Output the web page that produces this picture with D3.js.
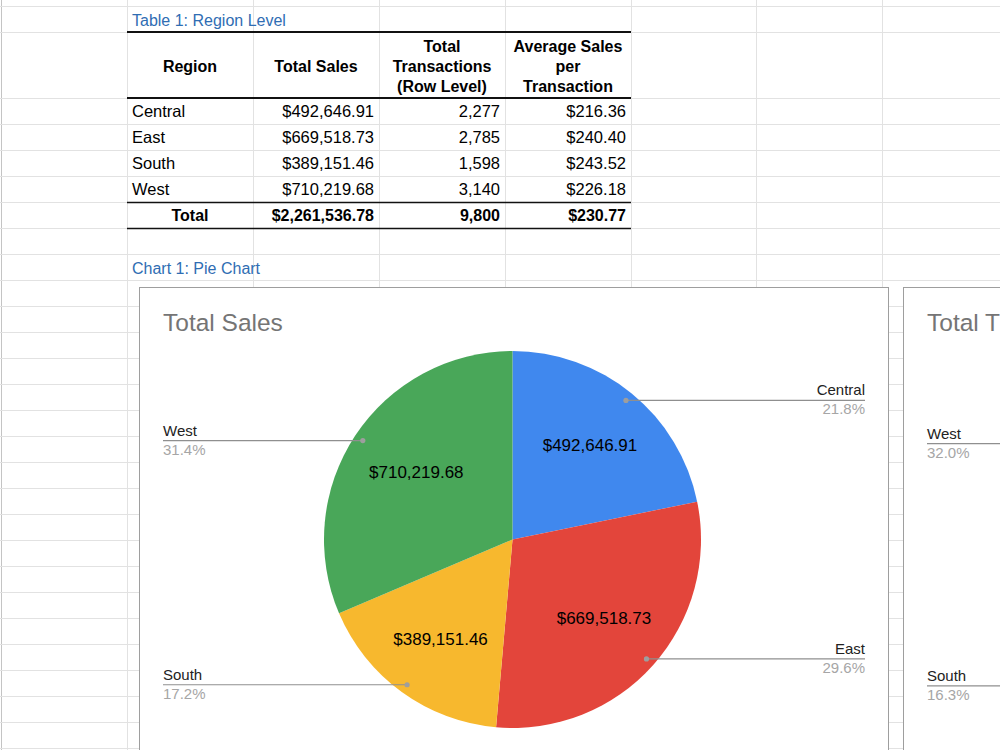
<!DOCTYPE html>
<html>
<head>
<meta charset="utf-8">
<script src="https://cdn.jsdelivr.net/npm/d3@7"></script>
<style>
  html, body { margin: 0; padding: 0; background: #fff; }
  svg { display: block; font-family: "Liberation Sans", Arial, sans-serif; }
</style>
</head>
<body>
<svg id="c" width="1000" height="750"></svg>
<script>
// ---------- data ----------
const regions = ["Central", "East", "South", "West"];
const totalSales = [492646.91, 669518.73, 389151.46, 710219.68];
const totalTransactions = [2277, 2785, 1598, 3140];
const avgSales = [216.36, 240.40, 243.52, 226.18];
const headerLines = [
  ["Region"],
  ["Total Sales"],
  ["Total", "Transactions", "(Row Level)"],
  ["Average Sales", "per", "Transaction"]
];
const tableTitle = "Table 1: Region Level";
const chartTitle = "Chart 1: Pie Chart";
const pieTitles = ["Total Sales", "Total Transactions"];
const sliceColors = ["#4088ee", "#e3453b", "#f7b82e", "#49a759"];

// ---------- setup ----------
const svg = d3.select("#c");
const W = 1000, H = 750;
const money = d3.format("$,.2f");
const intf = d3.format(",");
const pct = d3.format(".1%");

// spreadsheet grid
const colX = [1, 127, 253, 379, 505, 631, 756, 882];
const rowY = [6, 32].concat(d3.range(98, H + 1, 26));
const grid = svg.append("g");
grid.selectAll("line.v").data(colX).join("line")
  .attr("x1", d => d + 0.5).attr("x2", d => d + 0.5)
  .attr("y1", 0).attr("y2", H)
  .attr("stroke", (d, i) => i === 0 ? "#c4c4c4" : "#e2e2e2").attr("stroke-width", 1);
grid.selectAll("line.h").data(rowY).join("line")
  .attr("x1", 0).attr("x2", W)
  .attr("y1", d => d + 0.5).attr("y2", d => d + 0.5)
  .attr("stroke", "#e2e2e2").attr("stroke-width", 1);

// ---------- table ----------
const tbl = svg.append("g");
const colL = [127, 253, 379, 505];
const colR = [253, 379, 505, 631];
tbl.append("text").attr("x", 132).attr("y", 26)
  .attr("font-size", 16).attr("fill", "#2f6db3").text(tableTitle);

// header
headerLines.forEach((lines, c) => {
  const cx = (colL[c] + colR[c]) / 2;
  const n = lines.length;
  lines.forEach((t, k) => {
    tbl.append("text").attr("x", cx).attr("y", 72 + (k - (n - 1) / 2) * 20)
      .attr("text-anchor", "middle").attr("font-size", 16).attr("font-weight", "bold")
      .attr("fill", "#000").text(t);
  });
});

// rows
const rowTop = d3.scaleBand().domain(d3.range(regions.length)).range([98, 98 + 26 * regions.length]);
regions.forEach((r, i) => {
  const y = rowTop(i) + 19;
  tbl.append("text").attr("x", 132).attr("y", y).attr("font-size", 16.5).attr("fill", "#000").text(r);
  const vals = [money(totalSales[i]), intf(totalTransactions[i]), money(avgSales[i])];
  vals.forEach((v, j) => {
    tbl.append("text").attr("x", colR[j + 1] - 5).attr("y", y)
      .attr("text-anchor", "end").attr("font-size", 16.5).attr("fill", "#000").text(v);
  });
});
// total row
const sumSales = d3.sum(totalSales), sumTx = d3.sum(totalTransactions);
const totY = 202 + 19;
tbl.append("text").attr("x", 190).attr("y", totY).attr("text-anchor", "middle")
  .attr("font-size", 16).attr("font-weight", "bold").text("Total");
[money(sumSales), intf(sumTx), money(sumSales / sumTx)].forEach((v, j) => {
  tbl.append("text").attr("x", colR[j + 1] - 5).attr("y", totY)
    .attr("text-anchor", "end").attr("font-size", 16).attr("font-weight", "bold").text(v);
});
// borders
[[32, 2], [98, 2], [202.5, 1.5], [228.5, 1.5]].forEach(([y, w]) => {
  tbl.append("line").attr("x1", 127).attr("x2", 631).attr("y1", y).attr("y2", y)
    .attr("stroke", "#111").attr("stroke-width", w);
});

svg.append("text").attr("x", 132).attr("y", 274)
  .attr("font-size", 16).attr("fill", "#2f6db3").text(chartTitle);

// ---------- pie charts ----------
function drawPie(left, title, values, fmt) {
  const g = svg.append("g");
  g.append("rect").attr("x", left + 0.5).attr("y", 287.5).attr("width", 749).attr("height", 480)
    .attr("fill", "#fff").attr("stroke", "#9e9e9e").attr("stroke-width", 1);
  g.append("text").attr("x", left + 24).attr("y", 331)
    .attr("font-size", 24.5).attr("fill", "#757575").text(title);

  const cx = left + 373.5, cy = 539.5, R = 188.5;
  const pie = d3.pie().sort(null).value(d => d)(values);
  const arc = d3.arc().innerRadius(0).outerRadius(R);
  const pg = g.append("g").attr("transform", `translate(${cx},${cy})`);
  pg.selectAll("path").data(pie).join("path")
    .attr("d", arc).attr("fill", (d, i) => sliceColors[i]);

  // value labels inside slices (only those that land inside the window)
  const inner = d3.arc().innerRadius(R * 0.65).outerRadius(R * 0.65);
  pg.selectAll("text.v").data(pie.filter(d => cx + inner.centroid(d)[0] + 50 < W)).join("text")
    .attr("transform", d => {
      const [x, y] = inner.centroid(d);
      const mid = (d.startAngle + d.endAngle) / 2;
      // small nudge so labels sit like the reference
      return `translate(${x + (mid > Math.PI * 1.5 ? 6 : 0)},${y - (mid > Math.PI / 2 && mid < Math.PI ? 3 : 0)})`;
    })
    .attr("text-anchor", "middle").attr("dy", "0.35em")
    .attr("font-size", 17).attr("fill", "#000").text(d => fmt(d.data));

  const total = d3.sum(values);
  const dotArc = d3.arc().innerRadius(R * 0.952).outerRadius(R * 0.952);
  pie.forEach((d, i) => {
    const [dx, dy] = dotArc.centroid(d);
    const px = cx + dx, py = cy + dy;
    const mid = (d.startAngle + d.endAngle) / 2;
    const right = mid < Math.PI;
    const lx = right ? left + 726 : left + 24;
    g.append("line").attr("x1", px).attr("x2", lx)
      .attr("y1", py).attr("y2", py).attr("stroke", "#8f8f8f").attr("stroke-width", 1.2);
    g.append("circle").attr("cx", px).attr("cy", py).attr("r", 2.6).attr("fill", "#9e9e9e");
    if (right && lx - 60 > W) return; // label lies fully outside the window
    g.append("text").attr("x", lx).attr("y", py - 5)
      .attr("text-anchor", right ? "end" : "start")
      .attr("font-size", 15).attr("fill", "#222").text(regions[i]);
    g.append("text").attr("x", lx).attr("y", py + 14)
      .attr("text-anchor", right ? "end" : "start")
      .attr("font-size", 15).attr("fill", "#a6a6a6").text(pct(d.data / total));
  });
}
drawPie(139, pieTitles[0], totalSales, money);
drawPie(903, pieTitles[1], totalTransactions, intf);
</script>
</body>
</html>
